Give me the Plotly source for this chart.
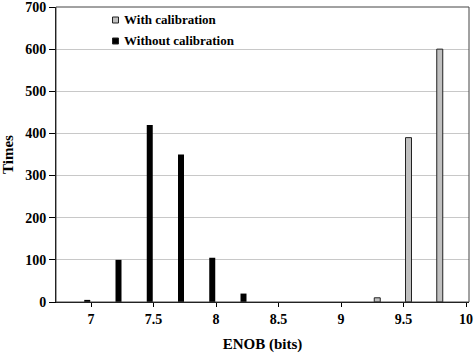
import plotly.graph_objects as go

enob_without = [6.97, 7.22, 7.47, 7.72, 7.97, 8.22]
times_without = [5, 100, 420, 350, 105, 20]
enob_with = [9.29, 9.54, 9.79]
times_with = [10, 390, 600]
x_ticks = [7, 7.5, 8, 8.5, 9, 9.5, 10]
x_tick_text = ["7", "7.5", "8", "8.5", "9", "9.5", "10"]
y_ticks = [0, 100, 200, 300, 400, 500, 600, 700]
series_names = ["With calibration", "Without calibration"]
series_colors = ["#c0c0c0", "black"]

FAM = "Liberation Serif"

fig = go.Figure()
fig.add_trace(go.Bar(x=enob_with, y=times_with, name=series_names[0], showlegend=False,
                     width=0.048, marker=dict(color=series_colors[0], line=dict(color="#222", width=1))))
fig.add_trace(go.Bar(x=enob_without, y=times_without, name=series_names[1], showlegend=False,
                     width=0.048, marker=dict(color=series_colors[1], line=dict(color="black", width=0))))

# legend drawn as swatches + labels (paper coords)
L, R, T, B = 56, 469, 7, 302
W, H = R - L, B - T
def px(x): return (x - L) / W
def py(y): return 1 - (y - T) / H

shapes = [dict(type="rect", xref="paper", yref="paper", x0=0, y0=0, x1=1, y1=1,
               line=dict(color="#444", width=1), fillcolor="rgba(0,0,0,0)", layer="above")]
annotations = []
for i, (name, col) in enumerate(zip(series_names, series_colors)):
    yc = 20 + 21 * i
    shapes.append(dict(type="rect", xref="paper", yref="paper",
                       x0=px(112.5), x1=px(118.5), y0=py(yc + 3), y1=py(yc - 3),
                       line=dict(color="#222", width=1), fillcolor=col))
    annotations.append(dict(xref="paper", yref="paper", x=px(122), y=py(yc), xanchor="left",
                            yanchor="middle", showarrow=False, text=f"<b>{name}</b>",
                            font=dict(family=FAM, size=13, color="black")))

fig.update_layout(
    width=474, height=353,
    margin=dict(l=L, r=474 - R, t=T, b=353 - B),
    paper_bgcolor="white", plot_bgcolor="white",
    font=dict(family=FAM, size=14, color="black"),
    showlegend=False,
    xaxis=dict(range=[6.72, 10.024], tickvals=x_ticks, ticktext=[f"<b>{t}</b>" for t in x_tick_text],
               showgrid=False, zeroline=False, showline=True, linecolor="black", linewidth=1,
               ticks="outside", ticklen=4, tickcolor="black", automargin=False,
               ticklabeloverflow="allow", tickfont=dict(family=FAM, size=14),
               title=dict(text="<b>ENOB (bits)</b>", font=dict(family=FAM, size=15), standoff=12)),
    yaxis=dict(range=[0, 700], tickvals=y_ticks, ticktext=[f"<b>{t}</b>" for t in y_ticks],
               showgrid=True, gridcolor="#c8c8c8", gridwidth=1, zeroline=False,
               showline=True, linecolor="black", linewidth=1, automargin=False,
               ticks="outside", ticklen=6, tickcolor="black", ticklabeloverflow="allow",
               tickfont=dict(family=FAM, size=14),
               title=dict(text="<b>Times</b>", font=dict(family=FAM, size=15), standoff=8)),
    shapes=shapes,
    annotations=annotations,
)

fig.write_html("out.html")
